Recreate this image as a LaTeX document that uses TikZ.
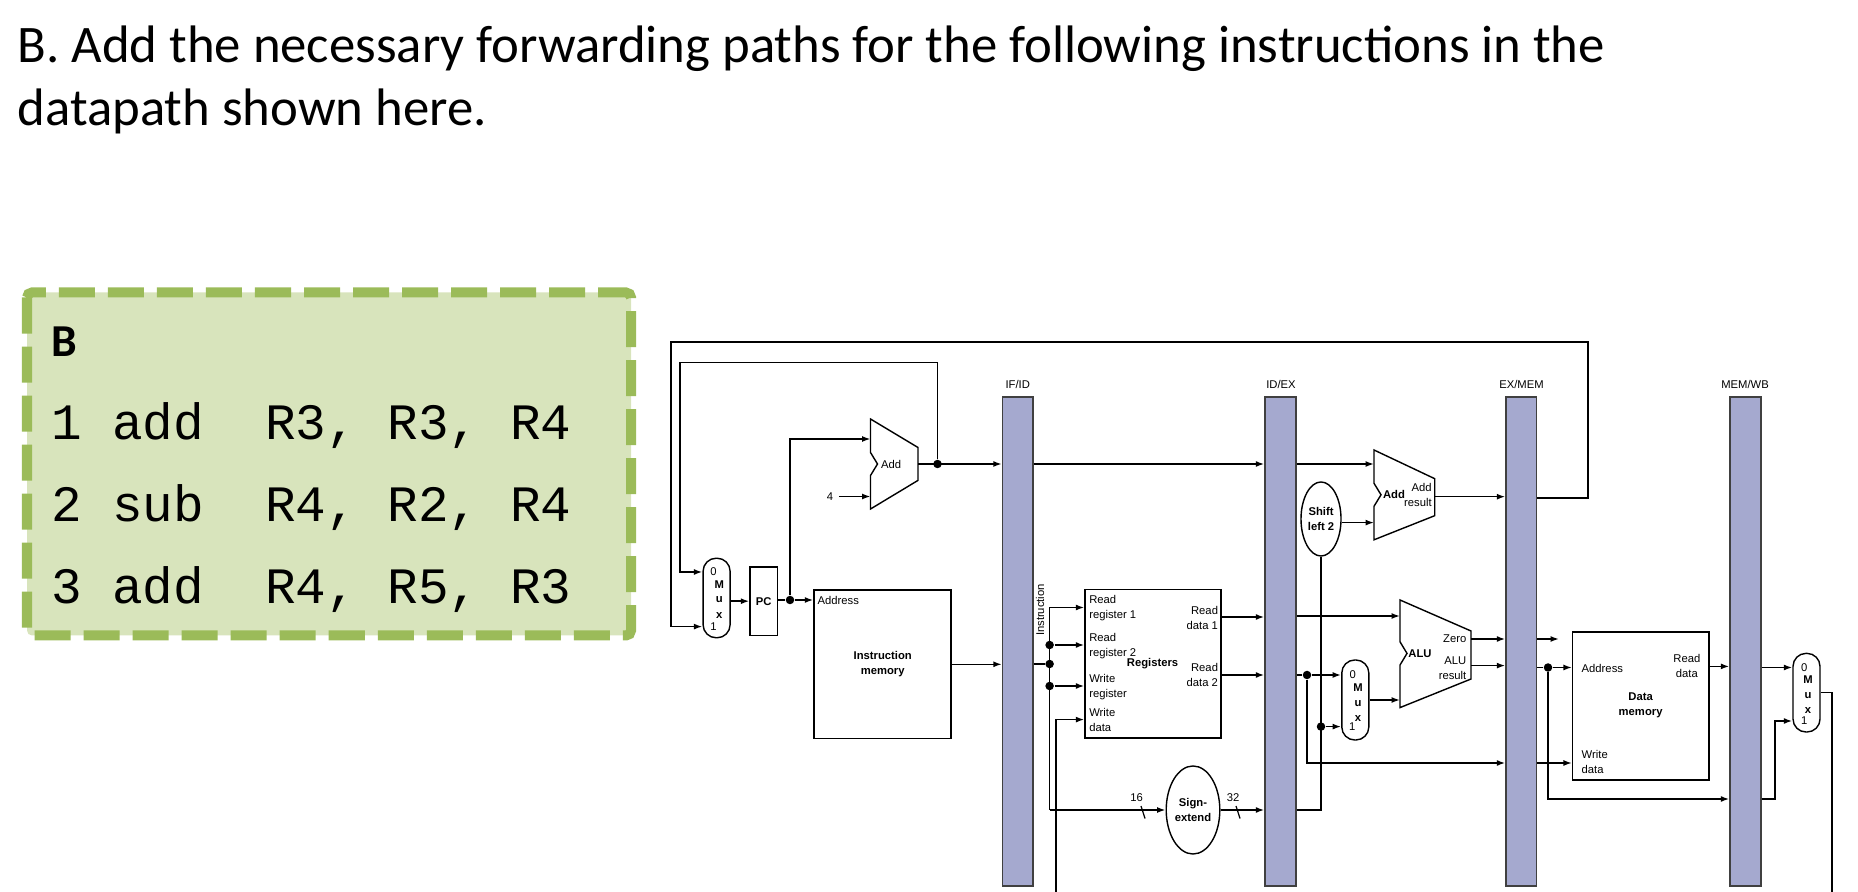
\documentclass[tikz,border=0pt]{standalone}
\usepackage{fontspec}
\setmainfont{Carlito}
\newfontfamily\dpfont{Liberation Sans}
\newfontfamily\codefont{Liberation Mono}
\usetikzlibrary{arrows.meta,shapes.geometric}
\definecolor{pipefill}{HTML}{A5A9CF}
\definecolor{boxfill}{HTML}{D8E4BC}
\definecolor{boxline}{HTML}{9BBB59}
\tikzset{
  wire/.style={line width=0.45pt},
  dot/.style={circle,fill,inner sep=0pt,minimum size=0.085cm},
  pipe/.style={draw=black!75,fill=pipefill,line width=0.4pt,inner sep=0pt},
  blk/.style={draw,line width=0.4pt,inner sep=0pt,font=\dpfont\fontsize{3.2}{4.25}\selectfont},
  mux/.style={draw,line width=0.4pt,rounded corners=0.13cm,minimum width=0.27cm,inner sep=0pt},
  lbl/.style={font=\dpfont\fontsize{3.2}{4.25}\selectfont,inner sep=0pt,align=left},
  blbl/.style={font=\dpfont\bfseries\fontsize{3.2}{4.25}\selectfont,inner sep=0pt,align=center}
}
\begin{document}
\begin{tikzpicture}[x=0.01cm,y=-0.01cm,line cap=butt,line join=miter,>={Latex[length=2.4pt,width=1.7pt]}]
\useasboundingbox (0,0) rectangle (1858,892);

% question
\node[anchor=base west,inner sep=0pt,font=\fontsize{15}{18}\selectfont] at (17,63) {B. Add the necessary forwarding paths for the following instructions in the};
\node[anchor=base west,inner sep=0pt,font=\fontsize{15}{18}\selectfont] at (17,126) {datapath shown here.};

% instruction box
\draw[boxline,fill=boxfill,line width=0.1cm,dash pattern=on 0.36cm off 0.13cm,rounded corners=0.05cm] (27,292.5) rectangle (631,635.5);
\node[anchor=base west,inner sep=0pt,font=\bfseries\fontsize{13}{16}\selectfont] at (50.5,357) {B};
\node[anchor=base west,inner sep=0pt,font=\codefont\fontsize{14.5}{17}\selectfont] at (50.5,440) {1~add~~R3,~R3,~R4};
\node[anchor=base west,inner sep=0pt,font=\codefont\fontsize{14.5}{17}\selectfont] at (50.5,522) {2~sub~~R4,~R2,~R4};
\node[anchor=base west,inner sep=0pt,font=\codefont\fontsize{14.5}{17}\selectfont] at (50.5,604) {3~add~~R4,~R5,~R3};

% pipeline registers
\node[pipe,minimum width=0.305cm,minimum height=4.89cm] (ifid) at (1017.75,641.5) {};
\node[pipe,minimum width=0.31cm,minimum height=4.89cm] (idex) at (1280.5,641.5) {};
\node[pipe,minimum width=0.305cm,minimum height=4.89cm] (exmem) at (1521.25,641.5) {};
\node[pipe,minimum width=0.31cm,minimum height=4.89cm] (memwb) at (1745.5,641.5) {};
\node[lbl] at (1017.75,384) {IF/ID};
\node[lbl] at (1281,384) {ID/EX};
\node[lbl] at (1521.5,384) {EX/MEM};
\node[lbl] at (1745,384) {MEM/WB};

% blocks
\node[mux,minimum height=0.795cm] (muxpc) at (716.6,598) {};
\node[mux,minimum height=0.8cm] (muxalu) at (1355.3,700) {};
\node[mux,minimum height=0.786cm] (muxwb) at (1806.5,692.7) {};
\node[blk,minimum width=0.275cm,minimum height=0.684cm] (pc) at (763.75,601.2) {\bfseries PC};
\node[blk,minimum width=1.37cm,minimum height=1.487cm] (imem) at (882.5,664.3) {};
\node[blk,minimum width=1.357cm,minimum height=1.485cm] (regs) at (1152.9,663.8) {};
\node[blk,minimum width=1.363cm,minimum height=1.48cm] (dmem) at (1640.8,706) {};
\node[blk,ellipse,minimum width=0.536cm,minimum height=0.88cm] (sext) at (1193,810) {};
\node[blk,ellipse,minimum width=0.40cm,minimum height=0.74cm] (shl) at (1321,519) {};

% adders and ALU
\draw[line width=0.4pt] (870.5,419) -- (918,447.5) -- (918,480.4) -- (870.5,509) -- (870.5,475.5) -- (877.5,464) -- (870.5,452.5) -- cycle;
\draw[line width=0.4pt] (1374,450) -- (1434.7,478.7) -- (1434.7,515.7) -- (1374,539.8) -- (1374,506.3) -- (1381,494.8) -- (1374,483.3) -- cycle;
\draw[line width=0.4pt] (1400,600) -- (1471,631) -- (1471,679) -- (1400,707.6) -- (1400,665) -- (1407,653.4) -- (1400,641.8) -- cycle;
\coordinate (addif) at (918,464);
\coordinate (addex) at (1434.7,496.7);
\coordinate (zero) at (1471,639);
\coordinate (alures) at (1471,665.6);

% labels
\node[lbl] at (891,464) {Add};
\node[lbl] (four) at (830,496.5) {4};
\node[lbl,anchor=west] at (817,600) {Address};
\node[blbl] at (882.7,664) {Instruction\\memory};
\node[lbl,rotate=90] at (1040,610) {Instruction};
\node[lbl,anchor=west] at (1088.6,608) {Read\\register 1};
\node[lbl,anchor=west] at (1088.6,645.7) {Read\\register 2};
\node[lbl,anchor=west] at (1088.6,687) {Write\\register};
\node[lbl,anchor=west] at (1088.6,720) {Write\\data};
\node[lbl,anchor=east,align=right] at (1218.7,617.8) {Read\\data 1};
\node[lbl,anchor=east,align=right] at (1218.7,675.4) {Read\\data 2};
\node[blbl] at (1152.5,663.7) {Registers};
\node[blbl] at (sext) {Sign-\\extend};
\node[blbl] at (shl) {Shift\\left 2};
\node[lbl] at (1136.5,797.7) {16};
\node[lbl] at (1233,797.7) {32};
\draw[line width=0.35pt] (1141,806) -- (1145,818.5);
\draw[line width=0.35pt] (1236,806) -- (1240,818.5);
\node[blbl] at (1394,494.8) {Add};
\node[lbl,anchor=east,align=right] at (1432.4,494.8) {Add\\result};
\node[blbl] at (1420,653.4) {ALU};
\node[lbl,anchor=east] at (1467,639) {Zero};
\node[lbl,anchor=east,align=right] at (1467,668) {ALU\\result};
\node[lbl,anchor=west] at (1581,668.7) {Address};
\node[lbl,anchor=east,align=center] at (1701,666.4) {Read\\data};
\node[blbl] at (1640.6,705.7) {Data\\memory};
\node[lbl,anchor=west] at (1581,762) {Write\\data};
% mux labels
\foreach \mx/\my/\ox/\oy/\ex/\ey in {719.3/584.5/713.6/572/713.6/626.6, 1358/687.7/1352.7/674.4/1352.3/726.6, 1808/680/1804.3/667.5/1804.3/721} {
  \node[lbl] at (\ox,\oy) {0};
  \node[lbl] at (\ex,\ey) {1};
  \node[blbl] at (\mx,\my) {M};
  \node[blbl] at (\mx,\my+15.5) {u};
  \node[blbl] at (\mx,\my+31) {x};
}

% IF stage
\node[dot] (dadd) at (937.5,464) {};
\node[dot] (dpc) at (790,600) {};
\draw[wire,->] (addif) -- (ifid.west |- addif);
\draw[wire,->] (dadd) -- (937.5,362.5) -- (680,362.5) -- (680,572) -- (muxpc.west |- 0,572);
\draw[wire,->] (exmem.east |- 0,497.8) -- (1588,497.8) -- (1588,342) -- (671,342) -- (671,626.6) -- (muxpc.west |- 0,626.6);
\draw[wire,->] (muxpc.east |- pc.west) -- (pc.west);
\draw[wire,->] (pc.east |- dpc) -- (dpc) -- (imem.west |- dpc);
\draw[wire,->] (dpc) -- (790,439) -- (870.5,439);
\draw[wire,->] (four.east) ++(5,0) -- (870.5,496.5);
\draw[wire,->] (imem.east) -- (ifid.west |- imem.east);

% ID stage
\node[dot] (dbus) at (1049.6,664) {};
\node[dot] (drr2) at (1049.6,645) {};
\node[dot] (dwr) at (1049.6,686) {};
\draw[wire,->] (ifid.east |- addif) -- (idex.west |- addif);
\draw[wire] (ifid.east |- dbus) -- (dbus);
\draw[wire,->] (1049.6,810) -- (1049.6,607.5) -- (regs.west |- 0,607.5);
\draw[wire,->] (drr2) -- (regs.west |- drr2);
\draw[wire,->] (dwr) -- (regs.west |- dwr);
\draw[wire,->] (1049.6,810) -- (sext.west);
\draw[wire,->] (sext.east) -- (idex.west |- sext.east);
\draw[wire,->] (regs.east |- 0,617) -- (idex.west |- 0,617);
\draw[wire,->] (regs.east |- 0,675) -- (idex.west |- 0,675);
\draw[wire,->] (muxwb.east) -- (1832,692.7) -- (1832,914.8) -- (1056,914.8) -- (1056,719.6) -- (regs.west |- 0,719.6);

% EX stage
\node[dot] (drd2) at (1307,675) {};
\node[dot] (dimm) at (1321,726.6) {};
\draw[wire,->] (idex.east |- addif) -- (1374,464);
\draw[wire] (idex.east |- sext.east) -- (1321,810) -- (shl.south);
\draw[wire,->] (shl.east |- 0,522.6) -- (1374,522.6);
\draw[wire,->] (addex) -- (exmem.west |- addex);
\draw[wire,->] (idex.east |- 0,616) -- (1400,616);
\draw[wire,->] (idex.east |- drd2) -- (drd2) -- (muxalu.west |- drd2);
\draw[wire,->] (drd2) -- (1307,763) -- (exmem.west |- 0,763);
\draw[wire,->] (dimm) -- (muxalu.west |- dimm);
\draw[wire,->] (muxalu.east) -- (1400,700);
\draw[wire,->] (zero) -- (exmem.west |- zero);
\draw[wire,->] (alures) -- (exmem.west |- alures);

% MEM stage
\node[dot] (dalu) at (1548,667.5) {};
\draw[wire,->] (exmem.east |- zero) -- (1559,639);
\draw[wire,->] (exmem.east |- dalu) -- (dalu) -- (dmem.west |- dalu);
\draw[wire,->] (dalu) -- (1548,799) -- (memwb.west |- 0,799);
\draw[wire,->] (exmem.east |- 0,763) -- (dmem.west |- 0,763);
\draw[wire,->] (dmem.east |- 0,666.4) -- (memwb.west |- 0,666.4);

% WB stage
\draw[wire,->] (memwb.east |- 0,667.5) -- (muxwb.west |- 0,667.5);
\draw[wire,->] (memwb.east |- 0,799) -- (1775,799) -- (1775,721) -- (muxwb.west |- 0,721);
\end{tikzpicture}
\end{document}
